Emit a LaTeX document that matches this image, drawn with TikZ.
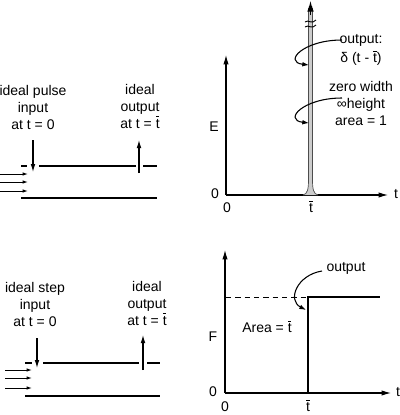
\documentclass[tikz,border=0pt]{standalone}
\usepackage{fontspec}
\setmainfont{Liberation Sans}
\usetikzlibrary{arrows.meta}
\newcommand\tbar{{\ooalign{t\cr\hfil\raisebox{0.78em}{\rule{0.24em}{0.06em}}\hfil\cr}}}
\begin{document}
\begin{tikzpicture}[x=0.75pt,y=-0.75pt,
  txt/.style={font=\fontsize{10.5}{12.75}\selectfont, inner sep=0pt, align=center},
  axis/.style={line width=0.8pt, -{Latex[length=7pt,width=4pt]}},
  thin/.style={line width=0.8pt},
  arr/.style={line width=0.8pt, -{Latex[length=6pt,width=3.5pt]}},
  sarr/.style={line width=0.7pt, -{Latex[length=4pt,width=2.6pt]}},
  curv/.style={line width=0.8pt, -{Latex[length=5pt,width=3.5pt]}}]
\useasboundingbox (0,0) rectangle (400,415);

% ---------- top left ----------
\node[txt] (pin) at (33,107) {ideal pulse\\input\\at t = 0};
\node[txt] (pout) at (140,106) {ideal\\output\\at t = \tbar};
\coordinate (pa1) at (33,140); \coordinate (pa2) at (33,172);
\draw[arr] (pa1) -- (pa2);
\coordinate (pb1) at (139,173); \coordinate (pb2) at (139,140);
\draw[arr] (pb1) -- (pb2);
\coordinate (tl1) at (21,166); \coordinate (tl2) at (27,166);
\coordinate (tl3) at (39,166); \coordinate (tl4) at (136,166);
\coordinate (tl5) at (143,166); \coordinate (tl6) at (157,166);
\draw[thin] (tl1) -- (tl2) (tl3) -- (tl4) (tl5) -- (tl6);
\coordinate (bl1) at (21,198); \coordinate (bl2) at (157,198);
\draw[thin] (bl1) -- (bl2);
\foreach \y [count=\i] in {174,182,191}{
  \coordinate (ps\i) at (0,\y); \coordinate (pe\i) at (28,\y);
  \draw[sarr] (ps\i) -- (pe\i);}

% ---------- bottom left ----------
\node[txt] (sin) at (35,304) {ideal step\\input\\at t = 0};
\node[txt] (sout) at (147,303) {ideal\\output\\at t = \tbar};
\coordinate (sa1) at (37,338); \coordinate (sa2) at (37,368);
\draw[arr] (sa1) -- (sa2);
\coordinate (sb1) at (143,370); \coordinate (sb2) at (143,335);
\draw[arr] (sb1) -- (sb2);
\coordinate (ul1) at (25,363); \coordinate (ul2) at (32,363);
\coordinate (ul3) at (43,363); \coordinate (ul4) at (139,363);
\coordinate (ul5) at (147,363); \coordinate (ul6) at (160,363);
\draw[thin] (ul1) -- (ul2) (ul3) -- (ul4) (ul5) -- (ul6);
\coordinate (vl1) at (25,396); \coordinate (vl2) at (160,396);
\draw[thin] (vl1) -- (vl2);
\foreach \y [count=\i] in {370,378,388}{
  \coordinate (ss\i) at (5,\y); \coordinate (se\i) at (32,\y);
  \draw[sarr] (ss\i) -- (se\i);}

% ---------- top right: E curve ----------
\coordinate (O1) at (226,195);
\coordinate (Ey) at (226,55);
\coordinate (Ex) at (388,195);
\draw[axis] (O1) -- (Ey);
\draw[axis] (O1) -- (Ex);
\node[txt] (e0a) at (215,194) {0};
\node[txt] (e0b) at (227,208) {0};
\node[txt] (eE) at (214,127) {E};
\node[txt] (et) at (396,194) {t};
\node[txt] (etb) at (311,208) {\tbar};
% spike
\fill[gray!40] (303,195) .. controls (307.5,194) and (308.5,189) .. (308.5,180) -- (308.5,6)
  -- (312.5,6) -- (312.5,180) .. controls (312.5,189) and (313.5,194) .. (318,195) -- cycle;
\draw[line width=0.5pt, gray!60!black] (303,195) .. controls (307.5,194) and (308.5,189) .. (308.5,180) -- (308.5,8);
\draw[line width=0.5pt, gray!60!black] (318,195) .. controls (313.5,194) and (312.5,189) .. (312.5,180) -- (312.5,8);
\coordinate (sp1) at (310.5,15); \coordinate (sp2) at (310.5,1);
\draw[line width=0.8pt, -{Latex[length=8pt,width=5pt]}] (sp1) -- (sp2);
\draw[line width=0.7pt] (305,22) .. controls (308,19) and (312,25) .. (316,20);
\draw[line width=0.7pt] (305,27) .. controls (308,24) and (312,30) .. (316,25);
% labels
\node[txt] (lo) at (361,40) {output:};
\node[txt] (ld) at (361,59) {δ (t - \tbar)};
\node[txt] (lz) at (361,103) {zero width\\∞height\\area = 1};
\coordinate (c1s) at (342,40); \coordinate (c1e) at (309,65);
\draw[curv] (c1s) .. controls (303,40) and (283,62) .. (c1e);
\coordinate (c2s) at (342,98); \coordinate (c2e) at (309,123);
\draw[curv] (c2s) .. controls (303,98) and (283,120) .. (c2e);

% ---------- bottom right: F curve ----------
\coordinate (O2) at (225,393);
\coordinate (Fy) at (225,250);
\coordinate (Fx) at (391,393);
\draw[axis] (O2) -- (Fy);
\draw[axis] (O2) -- (Fx);
\node[txt] (f0a) at (213,392) {0};
\node[txt] (f0b) at (225,407) {0};
\node[txt] (fF) at (213,337) {F};
\node[txt] (ft) at (398,392) {t};
\node[txt] (ftb) at (308,407) {\tbar};
\coordinate (s1) at (308,393); \coordinate (s2) at (308,297); \coordinate (s3) at (380,297);
\draw[line width=1.5pt] (O2) -- (s1) -- (s2) -- (s3);
\coordinate (d1) at (226,297);
\draw[line width=0.7pt, dash pattern=on 4pt off 3pt] (d1) -- (s2);
\node[txt] (farea) at (267,328) {Area = \tbar};
\node[txt] (fout) at (346,268) {output};
\coordinate (c3s) at (322,271); \coordinate (c3e) at (306,310);
\draw[curv] (c3s) .. controls (297,275) and (287,300) .. (c3e);
\end{tikzpicture}
\end{document}
